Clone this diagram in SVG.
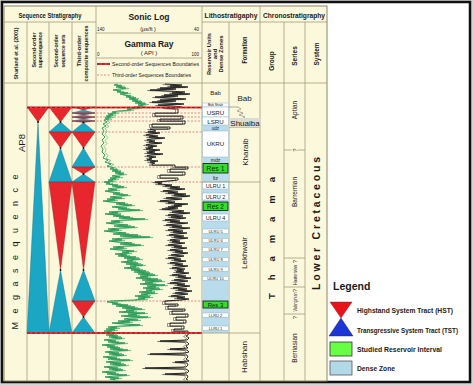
<svg xmlns="http://www.w3.org/2000/svg" width="474" height="386" viewBox="0 0 474 386">
<defs>
<style>
.t{font-family:"Liberation Sans",Arial,sans-serif;fill:#1a1a1a}
.b{font-weight:bold}
.grid{stroke:#a39d78;stroke-width:0.8;fill:none}
.hst{fill:#e8262d;stroke:#a01818;stroke-width:0.4}
.tst{fill:#1ba6c4;stroke:#0f6f86;stroke-width:0.4}
.so{stroke:#e8343a;stroke-width:2;fill:none}
.so2{stroke:#8e0c0c;stroke-width:0.8;stroke-dasharray:3 2;fill:none}
.to{stroke:#e27070;stroke-width:0.8;stroke-dasharray:2 1.5;fill:none}
.wh{fill:#ffffff;stroke:#8fb3c3;stroke-width:0.5}
.dz{fill:#b8dcec}
.res{fill:#35dd2a;stroke:#111;stroke-width:0.8}
.dot{fill:#111}
</style>
<polyline id="gr" points="118,84 114,85 122,86 116,87 126,88 119,89 113,90 121,91 117,92 128,93 120,94 124,95 131,96 126,97 136,98 129,99 138,100 132,101 142,102 135,103 146,104 138,105 143,106 134,107 139,108 127,109 131,110 118,111 112,112 116,113 108,114 113,115 106,116 111,117 105,118 109,119 104,120 107,122 103,124 106,126 102,128 104,131 102,134 105,137 102,140 104,143 101,146 103,149 102,152 105,155 103,158 108,160 105,162 111,164 107,166 114,168 110,169 118,170 112,171 121,172 115,173 124,174 117,175 112,176 120,177 110,178 116,179 108,180 113,181 104,182 110,183 106,184 118,185 112,186 124,187 114,188 108,189 117,190 105,191 111,192 120,193 113,194 128,195 118,196 110,197 122,198 107,199 115,200 103,201 112,202 125,203 116,204 132,205 121,206 112,207 127,208 118,209 140,210 123,211 109,212 118,213 105,214 121,215 113,216 130,217 119,218 145,219 124,220 111,221 120,222 106,223 116,224 128,225 114,226 135,227 121,228 108,229 119,230 104,231 115,232 126,233 113,234 138,235 120,236 150,237 125,238 112,239 122,240 109,241 118,242 132,243 120,244 141,245 126,246 113,247 124,248 110,249 121,250 134,251 122,252 129,253 115,254 127,255 118,256 136,257 124,258 140,259 127,260 133,261 121,262 138,263 126,264 143,265 130,266 136,267 124,268 140,269 131,270 146,271 134,272 150,273 138,274 155,275 140,276 148,277 136,278 158,279 142,280 162,281 145,282 153,283 140,284 165,285 147,286 156,287 143,288 160,289 146,290 152,291 139,292 155,293 141,294 148,295 135,296 150,297 138,298 145,299 133,300 110,301 107,302 118,303 112,304 128,305 116,306 135,307 122,308 142,309 126,310 134,311 119,312 145,313 128,314 137,315 121,316 148,317 130,318 124,319 138,320 118,321 130,322 112,323 126,324 140,325 121,326 108,327 117,328 106,329 115,330 104,331 112,332 108,333 114,334 106,335 118,336 109,337 122,338 112,339 104,340 116,341 108,342 125,343 113,344 102,345 115,346 107,347 120,348 110,349 128,350 114,351 105,352 119,353 109,354 124,355 112,356 103,357 117,358 108,359 130,360 115,361 106,362 121,363 110,364 126,365 113,366 104,367 118,368 109,369 123,370 111,371 102,372 116,373 107,374 127,375 114,376 105,377 119,378 110,379 115,380"/>
<polyline id="so" points="165,84 182,85 170,86 188,87 160,88 176,89 150,90 168,91 185,92 172,93 190,94 164,95 178,96 155,97 170,98 186,99 160,100 176,101 152,102 168,103 184,104 158,105 172,106 182,107 165,108 178,109 178,113 155,113 155,116 183,116 183,119 160,119 160,121 185,121 185,124 152,124 152,127 170,127 170,129 150,129 156,131 148,132 160,133 150,134 146,135 158,136 149,137 165,138 151,139 147,140 155,141 149,142 162,143 150,144 146,145 157,146 148,147 153,148 146,149 160,150 149,151 155,152 147,153 163,154 150,155 147,156 156,157 149,158 152,159 147,160 158,161 150,162 155,163 152,164 152,165 175,165 175,167 188,167 188,169 170,169 170,172 185,172 185,175 160,175 160,178 178,178 178,180 168,181 155,182 162,183 158,184 172,185 165,186 180,187 170,188 185,189 172,190 163,191 178,192 168,193 186,194 174,195 190,196 176,197 166,198 182,199 170,200 160,201 175,202 168,203 188,204 174,205 182,206 168,207 178,208 162,209 176,210 184,211 172,212 190,213 177,214 168,215 183,216 171,217 186,218 175,219 165,220 180,221 170,222 188,223 176,224 166,225 182,226 172,227 190,228 178,229 168,230 183,231 173,232 187,233 176,234 169,235 184,236 174,237 188,238 177,239 170,240 180,241 172,242 185,243 176,244 168,245 182,246 174,247 187,248 178,249 170,250 183,251 175,252 188,253 179,254 171,255 184,256 176,257 168,258 181,259 174,260 186,261 177,262 170,263 183,264 175,265 188,266 179,267 172,268 185,269 177,270 184,271 176,272 189,273 180,274 172,275 186,276 178,277 191,278 182,279 174,280 188,281 179,282 170,283 185,284 177,285 190,286 181,287 173,288 187,289 178,290 192,291 183,292 175,293 188,294 179,295 171,296 185,297 177,298 189,299 180,300 165,301 165,304 178,304 178,306 168,306 168,309 185,309 185,311 172,311 172,314 188,314 188,317 176,317 176,320 186,320 186,323 170,323 170,326 184,326 184,329 174,329 174,331 188,331 188,335 186,336 189,338 187,340 160,341 187,342 189,344 186,346 188,348 170,349 187,350 189,352 185,353 150,354 187,355 188,357 186,359 189,361 175,362 187,363 188,365 186,367 145,368 186,369 189,371 187,373 165,374 187,375 188,377 186,379 188,380"/>
</defs>
<rect x="0" y="0" width="474" height="386" fill="#d4d4d4"/>
<rect x="2" y="2" width="468" height="380" fill="#ffffff" stroke="#111" stroke-width="2.5"/>

<g id="table">
<rect x="4" y="6" width="323" height="375" fill="#fbf8dc" stroke="#8c8660" stroke-width="1"/>
<g class="grid">
<line x1="4" y1="22" x2="96" y2="22"/>
<line x1="202" y1="22" x2="327" y2="22"/>
<line x1="4" y1="83" x2="327" y2="83"/>
<line x1="96" y1="33" x2="202" y2="33"/>
<line x1="96" y1="58" x2="202" y2="58"/>
<line x1="27" y1="22" x2="27" y2="381"/>
<line x1="49" y1="22" x2="49" y2="381"/>
<line x1="72" y1="22" x2="72" y2="381"/>
<line x1="96" y1="6" x2="96" y2="381"/>
<line x1="202" y1="6" x2="202" y2="381"/>
<line x1="229" y1="22" x2="229" y2="381"/>
<line x1="260" y1="6" x2="260" y2="381"/>
<line x1="284" y1="22" x2="284" y2="381"/>
<line x1="305" y1="22" x2="305" y2="381"/>
</g>
</g>

<g id="headers">
<text class="t b" x="50" y="17.5" font-size="7.5" text-anchor="middle" textLength="63" lengthAdjust="spacingAndGlyphs">Sequence Stratigraphy</text>
<text class="t b" x="149" y="20" font-size="8.5" text-anchor="middle">Sonic Log</text>
<text class="t b" x="231" y="17.5" font-size="7.5" text-anchor="middle" textLength="53" lengthAdjust="spacingAndGlyphs">Lithostratigaphy</text>
<text class="t b" x="294" y="17.5" font-size="7.5" text-anchor="middle" textLength="62" lengthAdjust="spacingAndGlyphs">Chronostratigraphy</text>
<text class="t" x="97" y="31" font-size="4.5">140</text>
<text class="t" x="148" y="30.5" font-size="5.5" text-anchor="middle">(µs/ft )</text>
<text class="t" x="199" y="31" font-size="4.5" text-anchor="end">40</text>
<text class="t b" x="149" y="47" font-size="8.5" text-anchor="middle">Gamma Ray</text>
<text class="t" x="149" y="55" font-size="6" text-anchor="middle">( API )</text>
<text class="t" x="97" y="56" font-size="4.5">0</text>
<text class="t" x="199" y="56" font-size="4.5" text-anchor="end">100</text>
<line class="so" x1="97" y1="64" x2="110" y2="64"/>
<line class="so2" x1="97" y1="64" x2="110" y2="64"/>
<text class="t" x="112" y="66" font-size="5.5" textLength="87" lengthAdjust="spacingAndGlyphs">Second-order Sequences Boundaries</text>
<line class="to" x1="97" y1="75" x2="110" y2="75"/>
<text class="t" x="112" y="77" font-size="5.5" textLength="79" lengthAdjust="spacingAndGlyphs">Third-order Sequences Boundaries</text>
<text class="t b" font-size="5.5" text-anchor="middle" transform="translate(18,53.5) rotate(-90)" textLength="52" lengthAdjust="spacingAndGlyphs">Sharland et al. (2001)</text>
<text class="t b" font-size="5.5" text-anchor="middle" transform="translate(35.5,50) rotate(-90)" textLength="35" lengthAdjust="spacingAndGlyphs">Second-order</text>
<text class="t b" font-size="5.5" text-anchor="middle" transform="translate(41.5,50) rotate(-90)" textLength="36" lengthAdjust="spacingAndGlyphs">supersequence</text>
<text class="t b" font-size="5.5" text-anchor="middle" transform="translate(58,51) rotate(-90)" textLength="33" lengthAdjust="spacingAndGlyphs">Second-order</text>
<text class="t b" font-size="5.5" text-anchor="middle" transform="translate(64.5,51) rotate(-90)" textLength="33" lengthAdjust="spacingAndGlyphs">sequence sets</text>
<text class="t b" font-size="5.5" text-anchor="middle" transform="translate(81,51) rotate(-90)" textLength="31" lengthAdjust="spacingAndGlyphs">Third-order</text>
<text class="t b" font-size="5.5" text-anchor="middle" transform="translate(87.5,53.5) rotate(-90)" textLength="56" lengthAdjust="spacingAndGlyphs">composite sequences</text>
<text class="t b" font-size="6" text-anchor="middle" transform="translate(211.2,54) rotate(-90)" textLength="42" lengthAdjust="spacingAndGlyphs">Reservoir Units</text>
<text class="t b" font-size="6" text-anchor="middle" transform="translate(217.2,54) rotate(-90)">and</text>
<text class="t b" font-size="6" text-anchor="middle" transform="translate(223.2,54) rotate(-90)" textLength="37" lengthAdjust="spacingAndGlyphs">Dense Zones</text>
<text class="t b" font-size="6.5" text-anchor="middle" transform="translate(247.3,50) rotate(-90)" textLength="27" lengthAdjust="spacingAndGlyphs">Formation</text>
<text class="t b" font-size="6.5" text-anchor="middle" transform="translate(274.3,61) rotate(-90)">Group</text>
<text class="t b" font-size="6.5" text-anchor="middle" transform="translate(297.3,56) rotate(-90)">Series</text>
<text class="t b" font-size="6.5" text-anchor="middle" transform="translate(319,54) rotate(-90)">System</text>
</g>

<g id="boundaries">
<g class="to">
<line x1="72" y1="113" x2="202" y2="113"/>
<line x1="72" y1="117" x2="202" y2="117"/>
<line x1="72" y1="121" x2="202" y2="121"/>
<line x1="49" y1="132" x2="202" y2="132"/>
<line x1="72" y1="167" x2="202" y2="167"/>
<line x1="49" y1="182" x2="202" y2="182"/>
<line x1="72" y1="301" x2="202" y2="301"/>
</g>
</g>

<g id="sequence-stratigraphy">
<text class="t" font-size="9.5" text-anchor="middle" transform="translate(25,143) rotate(-90)">AP8</text>
<text class="t" font-size="9" text-anchor="middle" transform="translate(18.2,252) rotate(-90)" textLength="155" lengthAdjust="spacing">Megasequence</text>
<polygon class="hst" points="27,107 49,107 38,122"/>
<polygon class="tst" points="38,122 27,333 49,333"/>
<polygon class="hst" points="49,107 72,107 60.5,122"/>
<polygon class="tst" points="60.5,122 49,132 72,132"/>
<polygon class="hst" points="49,132 72,132 60.5,148"/>
<polygon class="tst" points="60.5,148 49,182 72,182"/>
<polygon class="hst" points="49,182 72,182 60.5,270"/>
<polygon class="tst" points="60.5,270 49,333 72,333"/>
<polygon class="hst" points="72,107 95,107 83.5,110"/>
<polygon class="tst" points="83.5,110 72,113 95,113"/>
<polygon class="hst" points="72,113 95,113 83.5,115"/>
<polygon class="tst" points="83.5,115 72,117 95,117"/>
<polygon class="hst" points="72,117 95,117 83.5,119"/>
<polygon class="tst" points="83.5,119 72,121 95,121"/>
<polygon class="hst" points="72,121 95,121 83.5,122.5"/>
<polygon class="tst" points="83.5,122.5 72,132 95,132"/>
<polygon class="hst" points="72,132 95,132 83.5,148"/>
<polygon class="tst" points="83.5,148 72,167 95,167"/>
<polygon class="hst" points="72,167 95,167 83.5,174"/>
<polygon class="tst" points="83.5,174 72,182 95,182"/>
<polygon class="hst" points="72,182 95,182 83.5,270"/>
<polygon class="tst" points="83.5,270 72,301 95,301"/>
<polygon class="hst" points="72,301 95,301 83.5,317"/>
<polygon class="tst" points="83.5,317 72,333 95,333"/>
<circle class="dot" cx="38" cy="122" r="0.9"/>
<circle class="dot" cx="60.5" cy="122" r="0.9"/>
<circle class="dot" cx="60.5" cy="148" r="0.9"/>
<circle class="dot" cx="60.5" cy="270" r="0.9"/>
<circle class="dot" cx="83.5" cy="122.5" r="0.9"/>
<circle class="dot" cx="83.5" cy="148" r="0.9"/>
<circle class="dot" cx="83.5" cy="174" r="0.9"/>
<circle class="dot" cx="83.5" cy="270" r="0.9"/>
<circle class="dot" cx="83.5" cy="317" r="0.9"/>
</g>

<g id="logs" fill="none" stroke-linejoin="round">
<use href="#gr" stroke="#6cc08a" stroke-width="0.8" transform="translate(3,0.5)"/>
<use href="#gr" stroke="#1f9450" stroke-width="0.9"/>
<use href="#so" stroke="#666" stroke-width="0.7" transform="translate(-2.5,0.5)"/>
<use href="#so" stroke="#161616" stroke-width="0.9"/>
</g>

<g id="second-order-boundaries">
<line class="so" x1="27" y1="107.5" x2="202" y2="107.5"/>
<line class="so2" x1="27" y1="107.5" x2="202" y2="107.5"/>
<line class="so" x1="27" y1="333" x2="202" y2="333"/>
<line class="so2" x1="27" y1="333" x2="202" y2="333"/>
</g>

<g id="reservoir-units">
<rect class="dz" x="202.5" y="103" width="26" height="230"/>
<rect class="wh" x="202.5" y="103" width="26" height="4"/>
<text class="t" x="215.5" y="106.2" font-size="3.3" text-anchor="middle">Bab Shale</text>
<text class="t" x="215.5" y="95" font-size="6" text-anchor="middle">Bab</text>
<rect class="wh" x="202.5" y="107" width="26" height="10"/>
<text class="t" x="215.5" y="114.5" font-size="6.2" text-anchor="middle">USRU</text>
<rect class="wh" x="202.5" y="117" width="26" height="8"/>
<text class="t" x="215.5" y="123.5" font-size="6.2" text-anchor="middle">LSRU</text>
<text class="t" x="215.5" y="130" font-size="4.5" text-anchor="middle">udz</text>
<rect class="wh" x="202.5" y="131" width="26" height="26"/>
<text class="t" x="215.5" y="146" font-size="6.2" text-anchor="middle">UKRU</text>
<text class="t" x="215.5" y="162" font-size="5" text-anchor="middle">mdz</text>
<rect class="res" x="203" y="163.5" width="25" height="9.5"/>
<text class="t" x="215.5" y="171" font-size="7" text-anchor="middle">Res 1</text>
<text class="t" x="215.5" y="180" font-size="5" text-anchor="middle">ltz</text>
<rect class="wh" x="202.5" y="182" width="26" height="7"/>
<text class="t" x="215.5" y="187.8" font-size="5.5" text-anchor="middle">ULRU 1</text>
<rect class="wh" x="202.5" y="193" width="26" height="7"/>
<text class="t" x="215.5" y="198.8" font-size="5.5" text-anchor="middle">ULRU 2</text>
<rect class="res" x="203" y="202" width="25" height="8.5"/>
<text class="t" x="215.5" y="208.8" font-size="6.5" text-anchor="middle">Res 2</text>
<rect class="wh" x="202.5" y="214" width="26" height="7"/>
<text class="t" x="215.5" y="219.8" font-size="5.5" text-anchor="middle">ULRU 4</text>
<rect class="wh" x="202.5" y="229" width="26" height="4.2"/>
<text class="t" x="215.5" y="232.5" font-size="4" text-anchor="middle">ULRU 5</text>
<rect class="wh" x="202.5" y="238.5" width="26" height="4.2"/>
<text class="t" x="215.5" y="242" font-size="4" text-anchor="middle">ULRU 6</text>
<rect class="wh" x="202.5" y="247.5" width="26" height="4.2"/>
<text class="t" x="215.5" y="251" font-size="4" text-anchor="middle">ULRU 7</text>
<rect class="wh" x="202.5" y="257.5" width="26" height="4.2"/>
<text class="t" x="215.5" y="261" font-size="4" text-anchor="middle">ULRU 8</text>
<rect class="wh" x="202.5" y="267" width="26" height="4.2"/>
<text class="t" x="215.5" y="270.5" font-size="4" text-anchor="middle">ULRU 9</text>
<rect class="wh" x="202.5" y="276.3" width="26" height="4"/>
<text class="t" x="215.5" y="279.6" font-size="4" text-anchor="middle">ULRU 10</text>
<rect class="res" x="203" y="301" width="25" height="7"/>
<text class="t" x="215.5" y="306.8" font-size="6" text-anchor="middle">Res 3</text>
<rect class="wh" x="202.5" y="313" width="26" height="4.2"/>
<text class="t" x="215.5" y="316.5" font-size="4" text-anchor="middle">LLRU 2</text>
<rect class="wh" x="202.5" y="326" width="26" height="4.2"/>
<text class="t" x="215.5" y="329.5" font-size="4" text-anchor="middle">LLRU 1</text>
</g>

<g id="formations">
<g class="grid">
<line x1="202" y1="182" x2="260" y2="182"/>
<line x1="202" y1="333" x2="260" y2="333"/>
<line x1="229" y1="127.5" x2="260" y2="127.5"/>
</g>
<polyline fill="none" stroke="#777" stroke-width="0.6" points="229,107 238,107 241,109 237,111 243,113 239,115 245,117 243,118"/>
<text class="t" x="244.5" y="101" font-size="8" text-anchor="middle">Bab</text>
<rect x="229.5" y="118" width="31" height="9.5" fill="#dcdcd2"/>
<text class="t" x="245" y="125.8" font-size="8" text-anchor="middle">Shuaiba</text>
<text class="t" font-size="8" text-anchor="middle" transform="translate(247.8,152) rotate(-90)">Kharaib</text>
<text class="t" font-size="8" text-anchor="middle" transform="translate(247.3,253) rotate(-90)">Lekhwair</text>
<text class="t" font-size="8" text-anchor="middle" transform="translate(247.3,357) rotate(-90)">Habshan</text>
</g>

<g id="chronostratigraphy">
<text class="t b" font-size="9.5" text-anchor="middle" transform="translate(275.3,238) rotate(-90)" textLength="122" lengthAdjust="spacing">Thamama</text>
<g class="grid">
<line x1="284" y1="150" x2="305" y2="150"/>
<line x1="284" y1="258" x2="305" y2="258"/>
<line x1="284" y1="287" x2="305" y2="287"/>
<line x1="284" y1="314" x2="305" y2="314"/>
</g>
<rect x="291.5" y="147" width="6" height="6" fill="#fbf8dc"/>
<text class="t" font-size="6" text-anchor="middle" transform="translate(296.6,150) rotate(-90)">?</text>
<text class="t" font-size="6" text-anchor="middle" transform="translate(296.6,261.5) rotate(-90)">?</text>
<text class="t" font-size="6" text-anchor="middle" transform="translate(296.6,290.5) rotate(-90)">?</text>
<text class="t" font-size="6" text-anchor="middle" transform="translate(296.6,317.5) rotate(-90)">?</text>
<text class="t" font-size="6.5" text-anchor="middle" transform="translate(297,110) rotate(-90)">Aptian</text>
<text class="t" font-size="6.5" text-anchor="middle" transform="translate(297,192) rotate(-90)">Barremian</text>
<text class="t" font-size="6" text-anchor="middle" transform="translate(296.8,275) rotate(-90)" textLength="20" lengthAdjust="spacingAndGlyphs">Hauterivian</text>
<text class="t" font-size="6" text-anchor="middle" transform="translate(296.8,302) rotate(-90)" textLength="19" lengthAdjust="spacingAndGlyphs">Valanginian</text>
<text class="t" font-size="6.5" text-anchor="middle" transform="translate(297,348) rotate(-90)">Berriasian</text>
<text class="t b" font-size="10.5" text-anchor="middle" transform="translate(319.8,223.5) rotate(-90)" textLength="133" lengthAdjust="spacing">Lower Cretaceous</text>
</g>

<g id="legend">
<text class="t b" x="333" y="290" font-size="10.5">Legend</text>
<polygon points="330,302 352,302 341,318" fill="#e8141c" stroke="#8a1010" stroke-width="0.4"/>
<polygon points="341,318 329,336 353,336" fill="#1e35d6" stroke="#101a70" stroke-width="0.4"/>
<rect x="330" y="342" width="22" height="14" fill="#66ff44" stroke="#333" stroke-width="0.8"/>
<rect x="330" y="361" width="22" height="14" fill="#b3d9e8" stroke="#555" stroke-width="0.8"/>
<text class="t b" x="357" y="312.5" font-size="7.2" textLength="96" lengthAdjust="spacingAndGlyphs">Highstand System Tract (HST)</text>
<text class="t b" x="357" y="332.5" font-size="7.2" textLength="101" lengthAdjust="spacingAndGlyphs">Transgressive System Tract (TST)</text>
<text class="t b" x="357" y="352" font-size="7.2" textLength="85" lengthAdjust="spacingAndGlyphs">Studied Reservoir Interval</text>
<text class="t b" x="357" y="371" font-size="7.2" textLength="38" lengthAdjust="spacingAndGlyphs">Dense Zone</text>
</g>
</svg>
